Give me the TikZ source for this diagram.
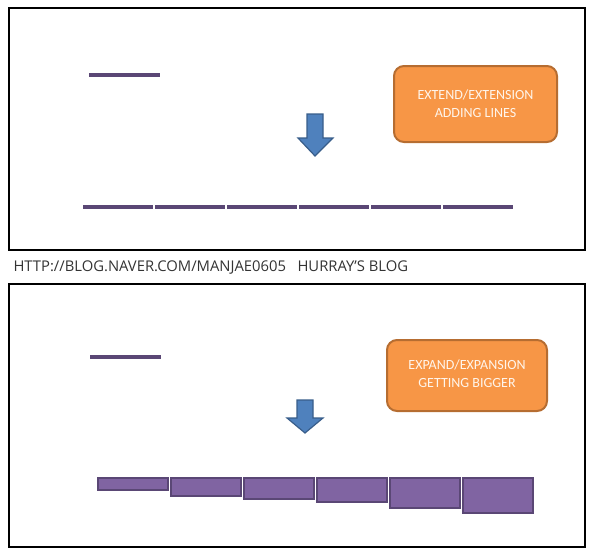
\documentclass[tikz,border=0pt]{standalone}
\usepackage{fontspec}
\setmainfont{Open Sans}
\newfontfamily\notefont{Carlito}
\usepackage{tikz}
\definecolor{linepurple}{HTML}{5A4775}
\definecolor{boxpurple}{HTML}{8064A2}
\definecolor{orangefill}{HTML}{F79646}
\definecolor{orangeedge}{HTML}{B66D31}
\definecolor{arrowblue}{HTML}{4F81BD}
\definecolor{arrowedge}{HTML}{385D8A}

\begin{document}
\begin{tikzpicture}[x=1pt, y=-1pt,
  panel/.style={draw=black, line width=1.2pt},
  seg/.style={draw=linepurple, line width=3.5pt},
  block/.style={draw=linepurple, fill=boxpurple, line width=2.2pt},
  note/.style={draw=orangeedge, fill=orangefill, line width=2pt, rounded corners=10pt},
  notetext/.style={text=orange!8, font=\notefont\fontsize{14}{18}\selectfont, align=center},
  downarrow/.style={draw=arrowedge, fill=arrowblue, line width=1.2pt}]
  \useasboundingbox (0,0) rectangle (592,555);
  % upper panel
  \draw[panel] (9,8) rectangle (585,250);
  % one line
  \draw[seg] (89,75) -- (160,75);
  % note box
  \draw[note] (394,66) rectangle (557,142);
  \node[notetext] (extend) at (475.5,104) {EXTEND/EXTENSION\\ADDING LINES};
  % arrow
  \draw[downarrow] (307,114) -- (323,114) -- (323,138) -- (333,138) -- (315,156)
    -- (298,138) -- (307,138) -- cycle;
  % lines added one after another
  \foreach \i in {0,...,5}
    \draw[seg] (83+72*\i,207) -- (153+72*\i,207);
  % blog caption
  \node[anchor=west, text=black!80, font=\fontsize{14.8}{17}\selectfont] (blog) at (10,268)
    {HTTP://BLOG.NAVER.COM/MANJAE0605\ \ \ HURRAY'S BLOG};
  % lower panel
  \draw[panel] (9,284) rectangle (585,547);
  % one line
  \draw[seg] (90,357) -- (161,357);
  % note box
  \draw[note] (387,340) rectangle (547,411);
  \node[notetext] (expand) at (467,374) {EXPAND/EXPANSION\\GETTING BIGGER};
  % arrow
  \draw[downarrow] (297,400) -- (313,400) -- (313,418) -- (323,418) -- (305,433)
    -- (287,418) -- (297,418) -- cycle;
  % blocks getting bigger
  \foreach \i/\h in {0/12, 1/18, 2/21, 3/24, 4/30, 5/35}
    \draw[block] (98+73*\i,478) rectangle (168+73*\i,478+\h);
\end{tikzpicture}
\end{document}
